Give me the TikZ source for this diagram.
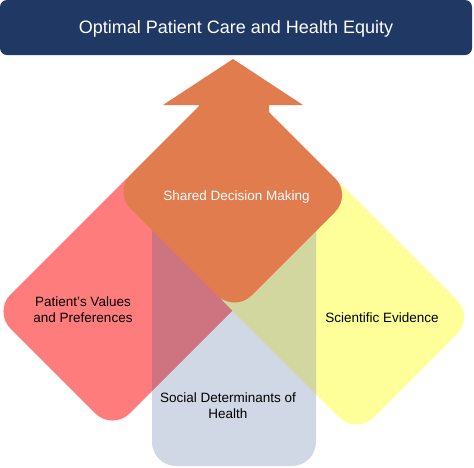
\documentclass[tikz,border=0pt]{standalone}
\usepackage{fontspec}
\setmainfont{Liberation Sans}
\usepackage{xcolor}

\definecolor{bannernavy}{RGB}{31,56,100}
\definecolor{sdmorange}{RGB}{224,124,78}
\definecolor{valuesred}{RGB}{255,124,124}
\definecolor{evidenceyellow}{RGB}{255,255,153}
\definecolor{socialblue}{RGB}{208,216,230}
\definecolor{valuesmix}{RGB}{206,115,128}
\definecolor{evidencemix}{RGB}{210,215,160}

% outlines of the tiles (sharp corners, rounded when drawn)
\newcommand{\valuestile}{(53,371) -- (112.5,430.5) -- (261.5,281.5) -- (142.5,162.5) -- (-6.5,311.5) -- cycle}
\newcommand{\evidencetile}{(415.25,375.75) -- (474,317) -- (323.5,166.5) -- (206,284) -- (356.5,434.5) -- cycle}
\newcommand{\socialtile}{(152,200) rectangle (316,466)}
\newcommand{\sdmtile}{(174,252) -- (234.5,312.5) -- (352,195) -- (231,74) -- (113.5,191.5) -- cycle}

\begin{document}
\begin{tikzpicture}[x=1pt, y=-1pt,
    tile/.style={rounded corners=24pt},
    tilelabel/.style={align=center, inner sep=0pt, font=\fontsize{13.5}{16.2}\selectfont}]

\useasboundingbox (0,0) rectangle (474,467);

%tiles
\fill[tile, valuesred] \valuestile;
\fill[tile, evidenceyellow] \evidencetile;
\fill[tile, socialblue] \socialtile;

%overlaps with the bottom tile
\begin{scope}
\clip[tile] \valuestile;
\fill[tile, valuesmix] \socialtile;
\end{scope}
\begin{scope}
\clip[tile] \evidencetile;
\fill[tile, evidencemix] \socialtile;
\end{scope}

%top tile and arrow
\fill[tile, sdmorange] \sdmtile;
\fill[sdmorange] (233,59) -- (303,105) -- (269,105) -- (269,130) -- (199,130) -- (199,105) -- (163,105) -- cycle;

%banner
\fill[bannernavy, rounded corners=7pt] (0,0) rectangle (472,55);

%labels
\node [white, inner sep=0pt, font=\fontsize{18}{21.6}\selectfont] (equity) at (236,29) {Optimal Patient Care and Health Equity};
\node [tilelabel, white] (sdm) at (236.5,197) {Shared Decision Making};
\node [tilelabel] (values) at (83,310) {Patient’s Values\\and Preferences};
\node [tilelabel] (evidence) at (382,318) {Scientific Evidence};
\node [tilelabel] (social) at (228,406) {Social Determinants of\\Health};

\end{tikzpicture}
\end{document}
